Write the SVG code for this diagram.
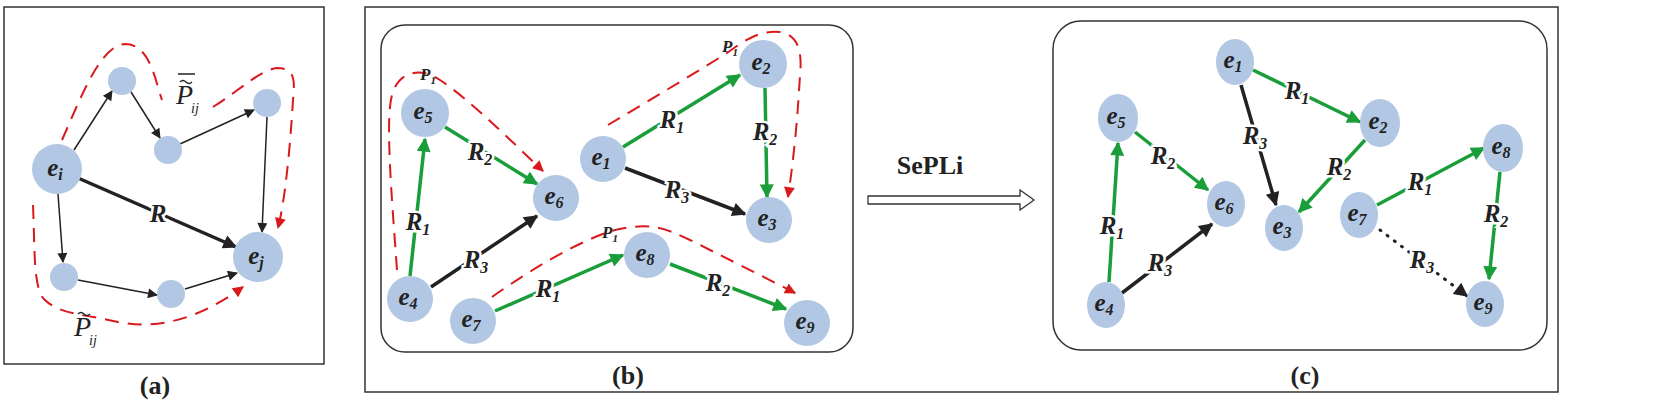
<svg xmlns="http://www.w3.org/2000/svg" width="1676" height="412" viewBox="0 0 1676 412">
<style>
.n{fill:#b1c7e3}
.t{font-family:"Liberation Serif",serif;font-style:italic;font-weight:bold;font-size:25px;fill:#222;text-anchor:middle}
.s{font-size:16px}
.lb{font-family:"Liberation Serif",serif;font-weight:bold;font-size:26px;fill:#222;text-anchor:middle}
.g{stroke:#1a9e3a;stroke-width:3.5;fill:none}
.k{stroke:#222;stroke-width:3.5;fill:none}
.k1{stroke:#222;stroke-width:1.5;fill:none}
.r{stroke:#d9191c;stroke-width:2;fill:none;stroke-dasharray:14 9}
.rl{paint-order:stroke;stroke:#fff;stroke-width:5}
.box{fill:none;stroke:#333;stroke-width:1.5}
</style>
<defs>
<marker id="ag" viewBox="0 0 10 10" refX="9" refY="5" markerUnits="userSpaceOnUse" markerWidth="18" markerHeight="14" orient="auto"><path d="M0,0L10,5L0,10z" fill="#1a9e3a"/></marker>
<marker id="ak" viewBox="0 0 10 10" refX="9" refY="5" markerUnits="userSpaceOnUse" markerWidth="18" markerHeight="14" orient="auto"><path d="M0,0L10,5L0,10z" fill="#222"/></marker>
<marker id="ak1" viewBox="0 0 10 10" refX="9" refY="5" markerUnits="userSpaceOnUse" markerWidth="13" markerHeight="10" orient="auto"><path d="M0,0L10,5L0,10z" fill="#222"/></marker>
<marker id="ar" viewBox="0 0 10 10" refX="9" refY="5" markerUnits="userSpaceOnUse" markerWidth="13" markerHeight="11" orient="auto"><path d="M0,0L10,5L0,10z" fill="#d9191c"/></marker>
</defs>
<rect class="box" x="4" y="7" width="320" height="357"/>
<rect class="box" x="365" y="7" width="1193" height="385"/>
<rect class="box" x="381" y="25" width="472" height="327" rx="24"/>
<rect class="box" x="1053" y="21" width="494" height="329" rx="28"/>
<text class="lb" x="155" y="394">(a)</text>
<text class="lb" x="628" y="384">(b)</text>
<text class="lb" x="1305" y="384">(c)</text>
<g id="sepli"><text x="930" y="174" style="font-family:'Liberation Serif',serif;font-weight:bold;font-size:26px;fill:#222" text-anchor="middle">SePLi</text>
<path d="M868,196H1020V190L1034,200L1020,210V204H868z" fill="#fff" stroke="#333" stroke-width="1.3"/></g>
<g id="connectors">
<path class="k1" d="M74,150L112,91" marker-end="url(#ak1)"/>
<path class="k1" d="M131,92L160,138" marker-end="url(#ak1)"/>
<path class="k1" d="M180,144L254,110" marker-end="url(#ak1)"/>
<path class="k1" d="M267,117L262,232" marker-end="url(#ak1)"/>
<path class="k1" d="M58,194L63,262" marker-end="url(#ak1)"/>
<path class="k1" d="M78,280L157,295" marker-end="url(#ak1)"/>
<path class="k1" d="M185,289L237,273" marker-end="url(#ak1)"/>
<path class="k" d="M78,178L236,247" marker-end="url(#ak)"/>
<path class="r" d="M62,140C80,100 100,45 125,44C150,44 155,80 162,100"/>
<path class="r" d="M213,107C240,90 260,70 277,68C295,68 295,80 293,100C290,150 285,200 278,228" marker-end="url(#ar)"/>
<path class="r" d="M33,205C35,250 33,290 45,300C60,315 90,315 118,322C160,330 200,318 243,287" marker-end="url(#ar)"/>
<path class="g" d="M410,276L425,139" marker-end="url(#ag)"/>
<path class="g" d="M445,127L537,184" marker-end="url(#ag)"/>
<path class="k" d="M431,287L537,216" marker-end="url(#ak)"/>
<path class="g" d="M623,147L740,75" marker-end="url(#ag)"/>
<path class="g" d="M765,88L767,197" marker-end="url(#ag)"/>
<path class="k" d="M625,168L745,214" marker-end="url(#ak)"/>
<path class="g" d="M495,311L623,255" marker-end="url(#ag)"/>
<path class="g" d="M670,264L786,309" marker-end="url(#ag)"/>
<path class="r" d="M397,270C392,200 385,120 392,95C398,72 420,66 440,80C470,100 510,140 543,171" marker-end="url(#ar)"/>
<path class="r" d="M608,125C650,100 700,70 727,53C745,40 760,30 780,32C800,35 802,55 800,75C798,110 795,150 788,197" marker-end="url(#ar)"/>
<path class="r" d="M492,297C530,270 580,240 615,230C650,222 665,228 690,240C720,255 760,275 795,293" marker-end="url(#ar)"/>
<path class="g" d="M1109,282L1118,143" marker-end="url(#ag)"/>
<path class="g" d="M1135,132L1208,190" marker-end="url(#ag)"/>
<path class="k" d="M1122,293L1212,224" marker-end="url(#ak)"/>
<path class="g" d="M1253,70L1360,122" marker-end="url(#ag)"/>
<path class="k" d="M1241,85L1276,205" marker-end="url(#ak)"/>
<path class="g" d="M1365,140L1299,212" marker-end="url(#ag)"/>
<path class="g" d="M1377,205L1484,148" marker-end="url(#ag)"/>
<path class="g" d="M1500,172L1489,279" marker-end="url(#ag)"/>
<path d="M1380,230L1467,296" stroke="#222" stroke-width="3" stroke-dasharray="1 8" stroke-linecap="round" fill="none" marker-end="url(#ak)"/>
<g class="t rl">
<text x="158" y="222">R</text>
<text x="418" y="230">R<tspan class="s" dy="5">1</tspan></text>
<text x="480" y="160">R<tspan class="s" dy="5">2</tspan></text>
<text x="476" y="268">R<tspan class="s" dy="5">3</tspan></text>
<text x="672" y="128">R<tspan class="s" dy="5">1</tspan></text>
<text x="765" y="140">R<tspan class="s" dy="5">2</tspan></text>
<text x="677" y="198">R<tspan class="s" dy="5">3</tspan></text>
<text x="548" y="297">R<tspan class="s" dy="5">1</tspan></text>
<text x="718" y="291">R<tspan class="s" dy="5">2</tspan></text>
<text x="1112" y="234">R<tspan class="s" dy="5">1</tspan></text>
<text x="1163" y="164">R<tspan class="s" dy="5">2</tspan></text>
<text x="1160" y="271">R<tspan class="s" dy="5">3</tspan></text>
<text x="1297" y="99">R<tspan class="s" dy="5">1</tspan></text>
<text x="1255" y="144">R<tspan class="s" dy="5">3</tspan></text>
<text x="1339" y="175">R<tspan class="s" dy="5">2</tspan></text>
<text x="1420" y="190">R<tspan class="s" dy="5">1</tspan></text>
<text x="1496" y="222">R<tspan class="s" dy="5">2</tspan></text>
<text x="1422" y="268">R<tspan class="s" dy="5">3</tspan></text>
</g>
<g class="t" style="font-size:17px">
<text x="428" y="80">P<tspan style="font-size:11px" dy="4">1</tspan></text>
<text x="730" y="52">P<tspan style="font-size:11px" dy="4">1</tspan></text>
<text x="610" y="238">P<tspan style="font-size:11px" dy="4">1</tspan></text>
</g>
<g style="font-family:'Liberation Serif',serif;font-style:italic;fill:#222">
<text x="176" y="104" font-size="28">P</text><text x="191" y="113" font-size="14">ij</text>
<path d="M180,82q3,-3 6,0t6,0" stroke="#222" stroke-width="1.3" fill="none"/><path d="M178,74H195" stroke="#222" stroke-width="1.5"/>
<text x="74" y="336" font-size="28">P</text><text x="89" y="345" font-size="14">ij</text>
<path d="M78,314q3,-3 6,0t6,0" stroke="#222" stroke-width="1.3" fill="none"/>
</g>
</g>
<g id="a_ei"><circle class="n" cx="57" cy="169" r="25"/><text class="t" x="55" y="176">e<tspan class="s" dy="4">i</tspan></text></g>
<g id="a_n1"><circle class="n" cx="122" cy="81" r="14"/></g>
<g id="a_n2"><circle class="n" cx="168" cy="150" r="14"/></g>
<g id="a_n3"><circle class="n" cx="267" cy="103" r="14"/></g>
<g id="a_n4"><circle class="n" cx="64" cy="277" r="14"/></g>
<g id="a_n5"><circle class="n" cx="171" cy="294" r="14"/></g>
<g id="a_ej"><circle class="n" cx="258" cy="257" r="25"/><text class="t" x="256" y="264">e<tspan class="s" dy="4">j</tspan></text></g>
<g id="b_e5"><circle class="n" cx="425" cy="113" r="24"/><text class="t" x="423" y="119">e<tspan class="s" dy="4">5</tspan></text></g>
<g id="b_e6"><circle class="n" cx="556" cy="198" r="23"/><text class="t" x="554" y="204">e<tspan class="s" dy="4">6</tspan></text></g>
<g id="b_e4"><circle class="n" cx="410" cy="299" r="23"/><text class="t" x="408" y="305">e<tspan class="s" dy="4">4</tspan></text></g>
<g id="b_e7"><circle class="n" cx="473" cy="321" r="23"/><text class="t" x="471" y="327">e<tspan class="s" dy="4">7</tspan></text></g>
<g id="b_e8"><circle class="n" cx="647" cy="255" r="23"/><text class="t" x="645" y="261">e<tspan class="s" dy="4">8</tspan></text></g>
<g id="b_e9"><circle class="n" cx="807" cy="323" r="23"/><text class="t" x="805" y="329">e<tspan class="s" dy="4">9</tspan></text></g>
<g id="b_e1"><circle class="n" cx="603" cy="159" r="23"/><text class="t" x="601" y="165">e<tspan class="s" dy="4">1</tspan></text></g>
<g id="b_e2"><circle class="n" cx="763" cy="64" r="24"/><text class="t" x="761" y="70">e<tspan class="s" dy="4">2</tspan></text></g>
<g id="b_e3"><circle class="n" cx="769" cy="220" r="23"/><text class="t" x="767" y="226">e<tspan class="s" dy="4">3</tspan></text></g>
<g id="c_e1"><ellipse class="n" cx="1235" cy="62" rx="19" ry="23"/><text class="t" x="1233" y="68">e<tspan class="s" dy="4">1</tspan></text></g>
<g id="c_e2"><ellipse class="n" cx="1380" cy="123" rx="20" ry="24"/><text class="t" x="1378" y="129">e<tspan class="s" dy="4">2</tspan></text></g>
<g id="c_e3"><ellipse class="n" cx="1284" cy="228" rx="19" ry="23"/><text class="t" x="1282" y="234">e<tspan class="s" dy="4">3</tspan></text></g>
<g id="c_e5"><ellipse class="n" cx="1118" cy="118" rx="20" ry="24"/><text class="t" x="1116" y="124">e<tspan class="s" dy="4">5</tspan></text></g>
<g id="c_e6"><ellipse class="n" cx="1226" cy="204" rx="19" ry="23"/><text class="t" x="1224" y="210">e<tspan class="s" dy="4">6</tspan></text></g>
<g id="c_e4"><ellipse class="n" cx="1106" cy="305" rx="19" ry="23"/><text class="t" x="1104" y="311">e<tspan class="s" dy="4">4</tspan></text></g>
<g id="c_e7"><ellipse class="n" cx="1359" cy="215" rx="19" ry="23"/><text class="t" x="1357" y="221">e<tspan class="s" dy="4">7</tspan></text></g>
<g id="c_e8"><ellipse class="n" cx="1503" cy="148" rx="20" ry="24"/><text class="t" x="1501" y="154">e<tspan class="s" dy="4">8</tspan></text></g>
<g id="c_e9"><ellipse class="n" cx="1485" cy="304" rx="19" ry="23"/><text class="t" x="1483" y="310">e<tspan class="s" dy="4">9</tspan></text></g>
</svg>
